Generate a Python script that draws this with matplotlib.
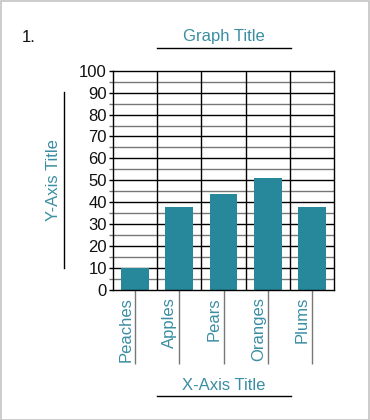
import matplotlib
matplotlib.use("Agg")
import matplotlib.pyplot as plt
import matplotlib.transforms as mtransforms
from matplotlib.lines import Line2D
from matplotlib.patches import Rectangle

categories = ["Peaches", "Apples", "Pears", "Oranges", "Plums"]
values = [10, 38, 44, 51, 38]
y_ticks = list(range(0, 101, 10))
title = "Graph Title"
x_title = "X-Axis Title"
y_title = "Y-Axis Title"
number_label = "1."

plt.rcParams['font.family'] = ['Liberation Sans', 'DejaVu Sans']
W, H = 370, 420
teal = '#27879b'
text_teal = '#3a8ea3'

fig = plt.figure(figsize=(W / 100, H / 100), dpi=100)
ax = fig.add_axes([113 / W, 1 - 290 / H, (334 - 113) / W, (290 - 70.7) / H])

n = len(categories)
xs = list(range(n))
ax.bar(xs, values, width=0.63, color=teal, zorder=3)
ax.set_xlim(-0.5, n - 0.5)
ax.set_ylim(0, 100)

# horizontal grid: major black, minor gray
ax.set_yticks(y_ticks)
ax.set_yticklabels([str(v) for v in y_ticks], fontsize=12, color='#111111')
ax.set_yticks([v + 5 for v in y_ticks[:-1]], minor=True)
ax.tick_params(axis='y', which='major', length=3, width=1, color='black', pad=1.5)
ax.tick_params(axis='y', which='minor', length=3, width=1, color='#777777')
for v in y_ticks[1:-1]:
    ax.axhline(v, color='black', lw=1, zorder=1)
for v in y_ticks[:-1]:
    ax.axhline(v + 5, color='#777777', lw=1, zorder=1)
# vertical category separators
for i in range(1, n):
    ax.axvline(i - 0.5, color='black', lw=1, zorder=1)

for s in ax.spines.values():
    s.set_color('black')
    s.set_linewidth(1)
    s.set_zorder(4)

# x ticks: long gray ticks at category centers
ax.set_xticks(xs)
ax.set_xticklabels([''] * n)
ax.tick_params(axis='x', which='major', length=74 * 0.72, width=1, color='#777777')

# category labels
offset = mtransforms.ScaledTranslation(-9.4 / 100, 0, fig.dpi_scale_trans)
trans = mtransforms.blended_transform_factory(ax.transData, fig.transFigure) + offset
for x, lab in zip(xs, categories):
    ax.text(x, 1 - 297 / H, lab, transform=trans, rotation=90, ha='center', va='top',
            fontsize=12, color=text_teal, clip_on=False)

# titles
fig.text(223.5 / W, 1 - 37 / H, title, ha='center', va='center', fontsize=12, color=text_teal)
fig.add_artist(Line2D([157 / W, 291 / W], [1 - 47.5 / H, 1 - 47.5 / H], color='black', lw=1))
fig.text(223.5 / W, 1 - 386 / H, x_title, ha='center', va='center', fontsize=12, color=text_teal)
fig.add_artist(Line2D([157 / W, 291 / W], [1 - 395.5 / H, 1 - 395.5 / H], color='black', lw=1))
fig.text(53 / W, 1 - 180 / H, y_title, ha='center', va='center', rotation=90, fontsize=12, color=text_teal)
fig.add_artist(Line2D([63.5 / W, 63.5 / W], [1 - 92 / H, 1 - 268 / H], color='black', lw=1))
fig.text(22 / W, 1 - 38 / H, number_label, ha='left', va='center', fontsize=12, color='#111111')

# outer border
fig.add_artist(Rectangle((0.5 / W, 0.5 / H), (W - 1.5) / W, (H - 1.5) / H, transform=fig.transFigure,
                         fill=False, edgecolor='#c4c4c4', lw=1.2))

fig.savefig('out.png', dpi=100)
